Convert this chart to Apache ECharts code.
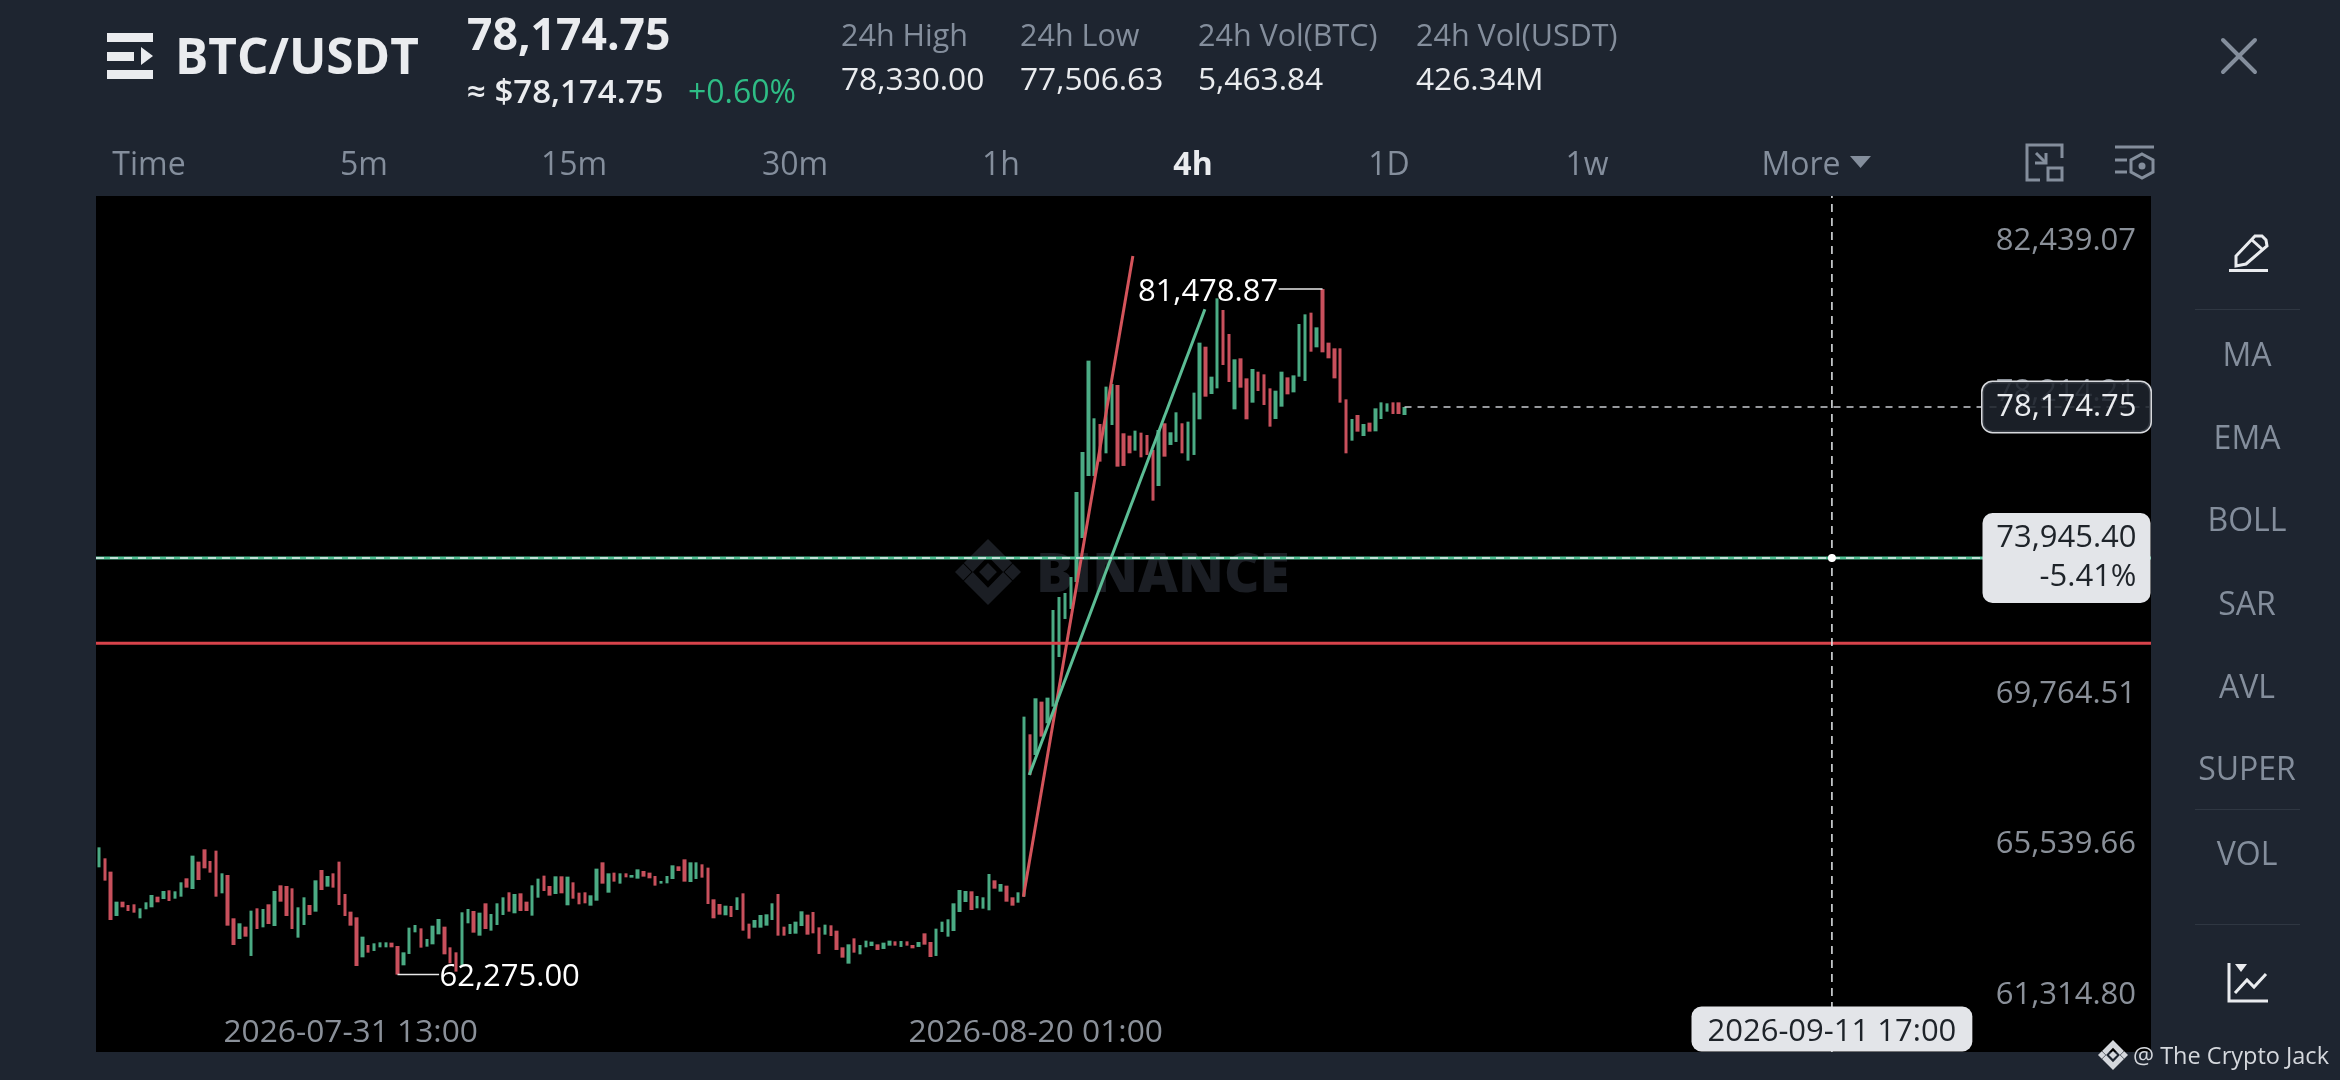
<!DOCTYPE html>
<html><head><meta charset="utf-8">
<style>html,body{margin:0;padding:0;background:#1e2530}#c{width:2340px;height:1080px}</style>
<script src="https://cdn.jsdelivr.net/npm/echarts@6/dist/echarts.min.js"></script>
</head><body><div id="c"></div>
<script>
const opens=[65280,65532,65159,63917,64318,64225,64244,63852,64104,64160,64458,64393,64636,64402,64458,64972,64673,65439,65784,65458,65747,64552,65065,63852,63273,63618,62797,64132,63599,64244,63637,64776,64757,64692,63310,63665,64225,64038,65205,64739,65112,65439,64533,64038,63880,62759,63105,62937,63039,63039,63170,63077,62535,62853,63459,63571,63058,63123,63403,63618,63039,62899,62526,63712,64057,63366,64272,63506,63665,63945,64580,63992,64552,64318,63926,64430,65047,64757,64533,65028,64216,64860,64570,64580,64206,64346,65420,64570,65131,64823,65112,64991,64963,65177,65131,65037,64823,64832,64953,65308,65504,64869,64953,65364,65271,64384,64253,63936,64197,64085,64552,63702,63590,63590,63646,63805,64533,63618,63413,63422,63637,63954,64029,63599,63394,63656,63506,63039,62582,63291,62843,63039,63077,63123,62993,63086,63207,63049,63207,63105,63049,63431,63189,62797,63469,63338,63497,64029,64309,64608,64132,64122,64076,64916,64599,64767,64440,64290,64459,69006,68427,69921,69314,69781,71172,72237,72517,73273,74505,76242,76242,77699,76877,77671,78791,77438,77372,76952,77456,77391,76971,75962,77718,77111,77195,77718,76672,76831,77829,79864,78539,78697,80892,80219,78109,79538,78977,78296,79164,79089,78697,77838,78184,79005,78585,79024,78903,80817,79846,81478.87,79977,79818,79818,78389,77231,77950,77362,77736,77493,77838,78044,78305,78305,77950];
const closes=[65840,64907,63805,64318,64160,64057,64010,64132,64300,64505,64300,64617,64337,64608,64860,64711,65607,64925,65252,65131,64458,65112,63646,63105,63712,63338,64066,63553,64113,63693,64617,64318,63917,63553,64160,64440,63945,64916,64645,65037,64711,64225,63917,63646,62516,63338,62890,63151,63179,63179,63039,62275,62899,63590,63665,63030,63273,63646,63833,62843,62591,62358,64020,64113,63450,64010,63553,63973,64272,64440,64038,64533,64057,64057,64776,64963,64617,64487,65028,64552,65019,64402,64244,64272,64496,65243,64823,65112,64879,65112,65000,65065,65224,65019,64972,64767,64897,65037,65336,65177,64879,65420,65420,64991,64253,63852,63954,64206,63889,64440,63506,63282,63805,63945,63964,64272,63366,63366,63693,63758,64048,63394,63431,62853,63674,63357,62965,62750,63123,62890,63105,63226,63198,62965,63170,63226,63086,63217,63086,63011,63189,63114,62768,63562,63758,63824,64272,64645,64617,64085,64477,64440,65093,64683,64813,64318,64206,64580,69501,67867,70015,68941,70033,72489,72853,72965,73413,75794,76914,79473,77858,76644,78745,78819,76504,76523,76877,77512,76765,76831,75551,77531,76784,77466,78026,76877,77764,78577,79977,78464,79024,81218,79351,78875,79510,78716,77829,79239,78623,78231,77624,78632,79164,78529,79061,80499,80770,79724,80406,79706,79538,78977,78296,76877,77838,77484,77698,77484,78137,78305,78277,77979,77979,78174.75];
const priceTicks=[61314.80,65539.66,69764.51,73989.36,78214.21,82439.07];
const timeTicks=['2026-07-31 13:00','2026-08-20 01:00'];
const firstTime='2026-07-24T09:00:00Z';
const slotCount=351;
const lastPrice=78174.75, crossPrice=73945.40, crossPct='-5.41%', crossTime='2026-09-11 17:00';
const redLevel=71556;
const redTrend=[[157.9,64458],[176.6,82405]];
const greenTrend=[[158.9,67867],[188.9,80912]];
const highPoint={from:209,to:201.5,price:81478.87,text:'81,478.87'};
const lowPoint={from:51,to:58.1,price:62275.00,text:'62,275.00'};
const headerStats=[['24h High','78,330.00'],['24h Low','77,506.63'],['24h Vol(BTC)','5,463.84'],['24h Vol(USDT)','426.34M']];
const tabs=['Time','5m','15m','30m','1h','4h','1D','1w','More'];
const sideItems=['MA','EMA','BOLL','SAR','AVL','SUPER','VOL'];

const FONT='"Open Sans","Noto Sans",sans-serif';
const GREY='#848e9c', UP='#4bab84', DOWN='#c8505c';
const fmt=v=>v.toLocaleString('en-US',{minimumFractionDigits:2,maximumFractionDigits:2});
const pad=n=>String(n).padStart(2,'0');
const categories=[];
for(let i=0;i<slotCount;i++){const d=new Date(Date.parse(firstTime)+i*4*3600*1000);
  categories.push(d.getUTCFullYear()+'-'+pad(d.getUTCMonth()+1)+'-'+pad(d.getUTCDate())+' '+pad(d.getUTCHours())+':'+pad(d.getUTCMinutes()));}
const candles=opens.map((o,i)=>[o,closes[i],Math.min(o,closes[i]),Math.max(o,closes[i])]);
const crossIdx=categories.indexOf(crossTime);
const YMIN=60107,YMAX=84085,XEND=350.5,XSTART=-0.5;

const txt=(x,y,text,o={})=>({type:'text',x,y,z:20,silent:true,style:Object.assign({text,fill:GREY,font:`${o.weight||400} ${o.size||32}px ${FONT}`,textAlign:o.align||'left',textVerticalAlign:'middle'},o.style||{})});
const gfx=[];
[[107,33,46,9],[107,52,27,9],[107,70,46,9]].forEach(r=>gfx.push({type:'rect',z:20,shape:{x:r[0],y:r[1],width:r[2],height:r[3]},style:{fill:'#eaecef'}}));
gfx.push({type:'polygon',z:20,shape:{points:[[141,47],[153,56],[141,65]]},style:{fill:'#eaecef'}});
gfx.push(txt(175,60,'BTC/USDT',{size:49.5,weight:700,style:{fill:'#eaecef'}}));
gfx.push(txt(467,37,'78,174.75',{size:44.5,weight:700,style:{fill:'#eaecef'}}));
gfx.push(txt(467,94,'≈ $78,174.75',{size:33,weight:600,style:{fill:'#eaecef'}}));
gfx.push(txt(688,94,'+0.60%',{size:32,style:{fill:'#2ebd85'}}));
[841,1020,1198,1416].forEach((x,i)=>{gfx.push(txt(x,37,headerStats[i][0],{size:30.5}));gfx.push(txt(x,81,headerStats[i][1],{size:31.7,weight:500,style:{fill:'#eaecef'}}));});
gfx.push({type:'polyline',z:20,shape:{points:[[2223,40],[2255,72]]},style:{stroke:GREY,lineWidth:4,lineCap:'round',fill:null}});
gfx.push({type:'polyline',z:20,shape:{points:[[2255,40],[2223,72]]},style:{stroke:GREY,lineWidth:4,lineCap:'round',fill:null}});
[149,364,574,795,1001,1193,1389,1587,1801].forEach((x,i)=>gfx.push(txt(x,166,tabs[i],{align:'center',size:32,weight:tabs[i]==='4h'?700:400,style:tabs[i]==='4h'?{fill:'#eaecef'}:{}})));
gfx.push({type:'polygon',z:20,shape:{points:[[1850,156],[1871,156],[1860.5,168]]},style:{fill:GREY}});
gfx.push({type:'polyline',z:20,shape:{points:[[2040,180],[2027,180],[2027,145],[2062,145],[2062,158]]},style:{stroke:GREY,lineWidth:3,fill:null}});
gfx.push({type:'rect',z:20,shape:{x:2048,y:168,width:14,height:12},style:{stroke:GREY,lineWidth:3,fill:null}});
gfx.push({type:'polyline',z:20,shape:{points:[[2036,153],[2046,163]]},style:{stroke:GREY,lineWidth:3,fill:null}});
gfx.push({type:'polyline',z:20,shape:{points:[[2035,163],[2046,163],[2046,153]]},style:{stroke:GREY,lineWidth:3,fill:null}});
gfx.push({type:'polyline',z:20,shape:{points:[[2115,147],[2154,147]]},style:{stroke:GREY,lineWidth:3}});
gfx.push({type:'polyline',z:20,shape:{points:[[2115,160],[2127,160]]},style:{stroke:GREY,lineWidth:3}});
gfx.push({type:'polyline',z:20,shape:{points:[[2115,172],[2127,172]]},style:{stroke:GREY,lineWidth:3}});
gfx.push({type:'polygon',z:20,shape:{points:[[2142,154],[2153,160],[2153,172],[2142,178],[2131,172],[2131,160]]},style:{stroke:GREY,lineWidth:3,fill:null}});
gfx.push({type:'circle',z:20,shape:{cx:2142,cy:166,r:3.5},style:{fill:GREY}});
gfx.push({type:'polygon',z:20,shape:{points:[[2262,236],[2266,240],[2267,246],[2246,264],[2236,266],[2236,256],[2255,236]]},style:{stroke:'#eaecef',lineWidth:3,fill:null}});
gfx.push({type:'polyline',z:20,shape:{points:[[2252,240],[2263,250]]},style:{stroke:'#eaecef',lineWidth:3}});
gfx.push({type:'rect',z:20,shape:{x:2229,y:269,width:39,height:3},style:{fill:'#eaecef'}});
[309,809,924].forEach(y=>gfx.push({type:'rect',z:20,shape:{x:2195,y,width:105,height:1},style:{fill:'#2f3742'}}));
[354,437,519,603,686,768,853].forEach((y,i)=>gfx.push(txt(2247,y+3,sideItems[i],{align:'center',size:32})));
gfx.push({type:'polyline',z:20,shape:{points:[[2229,963],[2229,1001],[2268,1001]]},style:{stroke:'#eaecef',lineWidth:3,fill:null}});
gfx.push({type:'polyline',z:20,shape:{points:[[2235,993],[2247,980],[2254,987],[2266,974]]},style:{stroke:'#eaecef',lineWidth:3,fill:null}});
gfx.push({type:'polygon',z:20,shape:{points:[[2235,964],[2247,964],[2241,972]]},style:{fill:'#eaecef'}});
gfx.push(txt(2133,1057,'@ The Crypto Jack',{size:23.5,style:{fill:'#d5d8dd'}}));
const logo=(cx,cy,s,fill,z)=>{
  const P=(a)=>a.map(p=>[cx+p[0]*s,cy+p[1]*s]);
  const dia=(x,y,r)=>[[x,y-r],[x+r,y],[x,y+r],[x-r,y]];
  [dia(0,0,.27),dia(-.75,0,.25),dia(.75,0,.25),
   [[0,-1],[.73,-.27],[.46,0],[0,-.48],[-.46,0],[-.73,-.27]],
   [[0,1],[.73,.27],[.46,0],[0,.48],[-.46,0],[-.73,.27]]
  ].forEach(pts=>gfx.push({type:'polygon',z,silent:true,shape:{points:P(pts)},style:{fill}}));
};
const WM='#1b1e24';
gfx.push(Object.assign(txt(1036,576,'BINANCE',{size:55,weight:800,style:{fill:WM}}),{z:1}));
logo(988,572,33,WM,1);
logo(2113,1055,15,'#d5d8dd',20);

const boxBase={position:'left',distance:0,fontFamily:FONT,fontSize:31,align:'right'};
const hidden={symbol:'circle',symbolSize:1,showSymbol:true,showAllSymbol:true,itemStyle:{color:'transparent'}};
const lineSeries=(name,data,style,extra={})=>Object.assign({name,type:'line',xAxisIndex:1,yAxisIndex:0,data,symbol:'none',silent:true,animation:false,lineStyle:style,z:5},extra);
const option={
 animation:false,backgroundColor:'#1e2530',textStyle:{fontFamily:FONT},
 grid:{left:96,width:2055,top:196,height:856,show:true,backgroundColor:'#000',borderWidth:0,containLabel:false},
 xAxis:[
  {type:'category',data:categories,boundaryGap:true,axisLine:{show:false},axisTick:{show:false},splitLine:{show:false},
   axisLabel:{show:true,inside:true,margin:3,fontFamily:FONT,fontSize:31.7,color:'#8a9099',interval:(i,v)=>timeTicks.includes(v),hideOverlap:false}},
  {type:'value',min:XSTART,max:XEND,show:false,splitLine:{show:false}}
 ],
 yAxis:[{type:'value',position:'right',min:YMIN,max:YMAX,scale:true,axisLine:{show:false},axisTick:{show:false},splitLine:{show:false},
   axisLabel:{inside:true,margin:15,customValues:priceTicks,fontFamily:FONT,fontSize:31,lineHeight:27,color:'#8a9099',verticalAlign:'bottom',formatter:fmt,showMinLabel:true,showMaxLabel:true}}],
 graphic:{elements:gfx},
 series:[
  {name:'BTC/USDT',type:'candlestick',xAxisIndex:0,yAxisIndex:0,data:candles,barWidth:4,z:3,silent:true,animation:false,
   itemStyle:{color:UP,color0:DOWN,borderColor:UP,borderColor0:DOWN,borderWidth:0}},
  lineSeries('Red level',[[XSTART,redLevel],[XEND,redLevel]],{color:'#d8434b',width:3}),
  lineSeries('Red trend',redTrend,{color:'#d4545b',width:3},{z:6}),
  lineSeries('Green trend',greenTrend,{color:'#5cbd95',width:3},{z:6}),
  lineSeries('Level green',[[XSTART,crossPrice],[XEND,crossPrice]],{color:'#4fc193',width:3}),
  lineSeries('Crosshair h',[[XSTART,crossPrice],{value:[XEND,crossPrice],label:Object.assign({show:true,formatter:fmt(crossPrice)+'\n'+crossPct,color:'#1e2329',backgroundColor:'#e3e5e9',borderRadius:10,padding:[10,14,2,14],width:140,lineHeight:39},boxBase)}],{color:'#e8ecef',width:1.5,type:[8,6]},Object.assign({z:12},hidden)),
  lineSeries('Crosshair v',[{value:[crossIdx,YMIN],label:{show:true,position:'top',distance:0,formatter:crossTime,fontFamily:FONT,fontSize:31,lineHeight:33,color:'#1e2329',backgroundColor:'#e3e5e9',borderRadius:10,padding:[9,16,3,16]}},[crossIdx,YMAX]],{color:'#e8ecef',width:1.5,type:[8,6]},Object.assign({z:12},hidden)),
  lineSeries('Crosshair dot',[[crossIdx,crossPrice]],{width:0},{symbol:'circle',symbolSize:8,showSymbol:true,itemStyle:{color:'#fff'},z:13}),
  lineSeries('Last price',[[opens.length-1,lastPrice],{value:[XEND,lastPrice],label:Object.assign({show:true,formatter:fmt(lastPrice),color:'#eaecef',backgroundColor:'rgba(30,35,44,0.88)',borderColor:'#d8dade',borderWidth:1.5,borderRadius:10,padding:[12,14,6,14],width:140,lineHeight:32},boxBase)}],{color:'#c9ccd1',width:1.5,type:[7,6]},Object.assign({z:11},hidden)),
  lineSeries('High',[[highPoint.from,highPoint.price],{value:[highPoint.to,highPoint.price],label:{show:true,position:'left',distance:2,offset:[2,3],formatter:highPoint.text,fontFamily:FONT,fontSize:31,color:'#fff'}}],{color:'#e8e8e8',width:1.5},Object.assign({z:7},hidden)),
  lineSeries('Low',[[lowPoint.from,lowPoint.price],{value:[lowPoint.to,lowPoint.price],label:{show:true,position:'right',distance:0,offset:[0,3],formatter:lowPoint.text,fontFamily:FONT,fontSize:31,color:'#fff'}}],{color:'#e8e8e8',width:1.5},Object.assign({z:7},hidden))
 ]
};
echarts.init(document.getElementById('c'),null,{renderer:'canvas',width:2340,height:1080}).setOption(option);
</script></body></html>
